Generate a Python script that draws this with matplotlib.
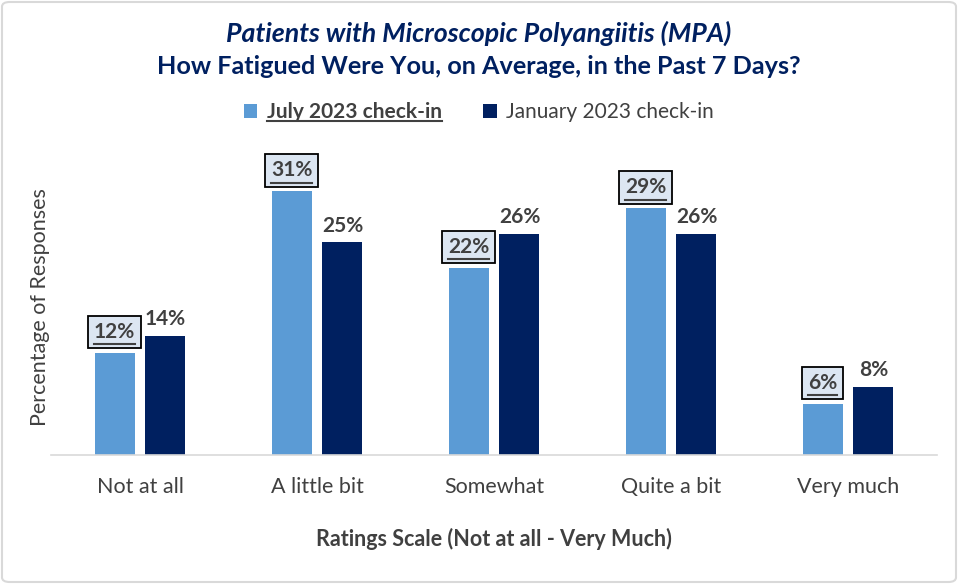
import matplotlib
matplotlib.use("Agg")
import matplotlib.pyplot as plt
from matplotlib.patches import FancyBboxPatch
from matplotlib.lines import Line2D

categories = ["Not at all", "A little bit", "Somewhat", "Quite a bit", "Very much"]
july = [12, 31, 22, 29, 6]
january = [14, 25, 26, 26, 8]
series_names = ["July 2023 check-in", "January 2023 check-in"]

FONT = "Lato"
plt.rcParams["font.family"] = [FONT, "DejaVu Sans"]
GRAY = "#404040"
NAVY = "#002060"
BLUE = "#5b9bd5"

fig = plt.figure(figsize=(9.58, 5.84), dpi=100)
W, H = 958, 584
ax = fig.add_axes([51.5 / W, (H - 455) / H, (936.5 - 51.5) / W, (455 - 160) / H])

x = list(range(len(categories)))
bw = 0.226
off = 0.144
b1 = ax.bar([i - off for i in x], july, bw, color=BLUE, label=series_names[0])
b2 = ax.bar([i + off for i in x], january, bw, color=NAVY, label=series_names[1])
ax.set_xlim(-0.5, 4.5)
ax.set_ylim(0, 34.7)
for s in ["top", "right", "left"]:
    ax.spines[s].set_visible(False)
ax.spines["bottom"].set_color("#d9d9d9")
ax.spines["bottom"].set_linewidth(1.2)
ax.set_yticks([])
ax.set_xticks(x)
ax.set_xticklabels(categories, fontsize=15.5, color=GRAY)
ax.tick_params(axis="x", length=0, pad=16)
ax.set_ylabel("Percentage of Responses", fontsize=15.5, color=GRAY, labelpad=1)
ax.set_xlabel("Ratings Scale (Not at all - Very Much)", fontsize=15.5, color=GRAY,
              fontweight="bold", labelpad=22)

july_texts = []
for xi, v in zip(x, july):
    t = ax.annotate(f"{v}%", (xi - off, v), xytext=(0, 8), textcoords="offset points",
                    ha="center", va="bottom", fontsize=15, fontweight="bold", color=GRAY,
                    bbox=dict(boxstyle="square,pad=0.3", fc="#dce6f2", ec="black", lw=1.3))
    july_texts.append(t)
for xi, v in zip(x, january):
    ax.annotate(f"{v}%", (xi + off, v), xytext=(0, 5), textcoords="offset points",
                ha="center", va="bottom", fontsize=15, fontweight="bold", color=GRAY)

fig.text(0.5, 1 - 33 / H, "Patients with Microscopic Polyangiitis (MPA)", ha="center", va="center",
         fontsize=19.3, fontweight="bold", style="italic", color=NAVY)
fig.text(0.5, 1 - 67 / H, "How Fatigued Were You, on Average, in the Past 7 Days?", ha="center",
         va="center", fontsize=18.2, fontweight="bold", color=NAVY)

leg = fig.legend(handles=[b1, b2], loc="center", bbox_to_anchor=(0.5, 1 - 112 / H), ncol=2,
                 frameon=False, fontsize=15, handlelength=0.65, handleheight=0.65,
                 handletextpad=0.45, columnspacing=2.0)
leg_texts = leg.get_texts()
leg_texts[0].set_fontweight("bold")
for t in leg_texts:
    t.set_color(GRAY)

# figure border
fig.patches.append(FancyBboxPatch((2 / W, 2 / H), 1 - 4 / W, 1 - 4 / H,
                                  boxstyle="round,pad=0,rounding_size=0.008",
                                  transform=fig.transFigure, fc="none", ec="#d9d9d9", lw=1.5))

# underlines
fig.canvas.draw()
r = fig.canvas.get_renderer()
inv = fig.transFigure.inverted()
def underline(t, gap=2.0, lw=1.5):
    bb = t.get_window_extent(r)
    _, _, d = r.get_text_width_height_descent(t.get_text(), t.get_fontproperties(), ismath=False)
    y = bb.y0 + d - gap
    (x0, y0), (x1, y1) = inv.transform([(bb.x0, y), (bb.x1, y)])
    fig.add_artist(Line2D([x0, x1], [y0, y1], transform=fig.transFigure, color=GRAY, lw=lw))
for t in july_texts:
    underline(t, gap=2.5)
underline(leg_texts[0], gap=2.5)

fig.savefig("out.png", dpi=100)
